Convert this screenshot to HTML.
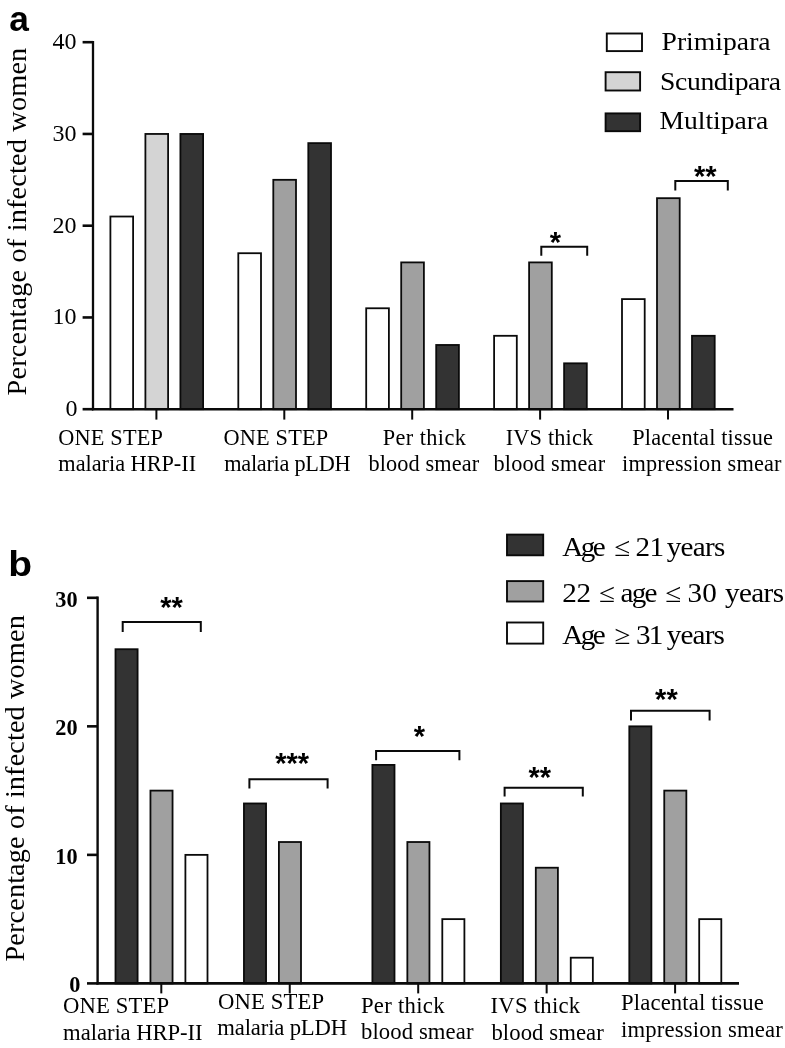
<!DOCTYPE html>
<html lang="en"><head><meta charset="utf-8"><title>Figure</title>
<style>
html,body{margin:0;padding:0;background:#fff;}
svg{display:block;}
text{fill:#000;}
.sf{font-family:"Liberation Serif",serif;}
.sn{font-family:"Liberation Sans",sans-serif;}
.b{font-weight:bold;}
</style></head><body>
<svg width="785" height="1048" viewBox="0 0 785 1048">
<rect x="0" y="0" width="785" height="1048" fill="#fff"/>
<rect x="110.40" y="216.52" width="22.70" height="192.68" fill="#ffffff" stroke="#0a0a0a" stroke-width="1.8"/>
<rect x="145.40" y="133.95" width="22.70" height="275.25" fill="#d4d4d4" stroke="#0a0a0a" stroke-width="1.8"/>
<rect x="180.40" y="133.95" width="22.70" height="275.25" fill="#333333" stroke="#0a0a0a" stroke-width="1.8"/>
<rect x="238.30" y="253.22" width="22.70" height="155.98" fill="#ffffff" stroke="#0a0a0a" stroke-width="1.8"/>
<rect x="273.30" y="179.82" width="22.70" height="229.38" fill="#a0a0a0" stroke="#0a0a0a" stroke-width="1.8"/>
<rect x="308.30" y="143.12" width="22.70" height="266.08" fill="#333333" stroke="#0a0a0a" stroke-width="1.8"/>
<rect x="366.20" y="308.27" width="22.70" height="100.93" fill="#ffffff" stroke="#0a0a0a" stroke-width="1.8"/>
<rect x="401.20" y="262.40" width="22.70" height="146.80" fill="#a0a0a0" stroke="#0a0a0a" stroke-width="1.8"/>
<rect x="436.20" y="344.97" width="22.70" height="64.23" fill="#333333" stroke="#0a0a0a" stroke-width="1.8"/>
<rect x="494.10" y="335.80" width="22.70" height="73.40" fill="#ffffff" stroke="#0a0a0a" stroke-width="1.8"/>
<rect x="529.10" y="262.40" width="22.70" height="146.80" fill="#a0a0a0" stroke="#0a0a0a" stroke-width="1.8"/>
<rect x="564.10" y="363.32" width="22.70" height="45.88" fill="#333333" stroke="#0a0a0a" stroke-width="1.8"/>
<rect x="622.00" y="299.10" width="22.70" height="110.10" fill="#ffffff" stroke="#0a0a0a" stroke-width="1.8"/>
<rect x="657.00" y="198.17" width="22.70" height="211.03" fill="#a0a0a0" stroke="#0a0a0a" stroke-width="1.8"/>
<rect x="692.00" y="335.80" width="22.70" height="73.40" fill="#333333" stroke="#0a0a0a" stroke-width="1.8"/>
<line x1="93.00" y1="40.90" x2="93.00" y2="410.20" stroke="#0a0a0a" stroke-width="2.3" stroke-linecap="butt"/>
<line x1="91.90" y1="409.20" x2="733.50" y2="409.20" stroke="#0a0a0a" stroke-width="2.6" stroke-linecap="butt"/>
<line x1="82.60" y1="409.20" x2="93.00" y2="409.20" stroke="#0a0a0a" stroke-width="2.6" stroke-linecap="butt"/>
<text class="sf" x="77.60" y="416.10" font-size="24" text-anchor="end" >0</text>
<line x1="82.60" y1="317.45" x2="93.00" y2="317.45" stroke="#0a0a0a" stroke-width="2.6" stroke-linecap="butt"/>
<text class="sf" x="76.40" y="324.35" font-size="24" text-anchor="end" >10</text>
<line x1="82.60" y1="225.70" x2="93.00" y2="225.70" stroke="#0a0a0a" stroke-width="2.6" stroke-linecap="butt"/>
<text class="sf" x="76.40" y="232.60" font-size="24" text-anchor="end" >20</text>
<line x1="82.60" y1="133.95" x2="93.00" y2="133.95" stroke="#0a0a0a" stroke-width="2.6" stroke-linecap="butt"/>
<text class="sf" x="76.40" y="140.85" font-size="24" text-anchor="end" >30</text>
<line x1="82.60" y1="42.20" x2="93.00" y2="42.20" stroke="#0a0a0a" stroke-width="2.6" stroke-linecap="butt"/>
<text class="sf" x="76.40" y="49.10" font-size="24" text-anchor="end" >40</text>
<line x1="156.40" y1="409.20" x2="156.40" y2="419.60" stroke="#0a0a0a" stroke-width="2.0" stroke-linecap="butt"/>
<line x1="284.30" y1="409.20" x2="284.30" y2="419.60" stroke="#0a0a0a" stroke-width="2.0" stroke-linecap="butt"/>
<line x1="412.20" y1="409.20" x2="412.20" y2="419.60" stroke="#0a0a0a" stroke-width="2.0" stroke-linecap="butt"/>
<line x1="540.10" y1="409.20" x2="540.10" y2="419.60" stroke="#0a0a0a" stroke-width="2.0" stroke-linecap="butt"/>
<line x1="668.00" y1="409.20" x2="668.00" y2="419.60" stroke="#0a0a0a" stroke-width="2.0" stroke-linecap="butt"/>
<text class="sf" x="58.28" y="444.80" font-size="22.3" text-anchor="start" letter-spacing="0.168">ONE STEP</text>
<text class="sf" x="58.34" y="470.70" font-size="22.3" text-anchor="start" letter-spacing="-0.023">malaria HRP-II</text>
<text class="sf" x="223.40" y="444.80" font-size="22.3" text-anchor="start" letter-spacing="0.200">ONE STEP</text>
<text class="sf" x="224.21" y="470.70" font-size="22.3" text-anchor="start" letter-spacing="-0.268">malaria pLDH</text>
<text class="sf" x="382.66" y="444.60" font-size="22.3" text-anchor="start" letter-spacing="0.429">Per thick</text>
<text class="sf" x="368.58" y="470.70" font-size="22.3" text-anchor="start" letter-spacing="0.089">blood smear</text>
<text class="sf" x="505.70" y="444.60" font-size="22.3" text-anchor="start" letter-spacing="0.174">IVS thick</text>
<text class="sf" x="493.41" y="470.70" font-size="22.3" text-anchor="start" letter-spacing="0.206">blood smear</text>
<text class="sf" x="632.29" y="444.60" font-size="22.3" text-anchor="start" letter-spacing="0.166">Placental tissue</text>
<text class="sf" x="622.02" y="470.50" font-size="22.3" text-anchor="start" letter-spacing="0.190">impression smear</text>
<text transform="translate(25.7,395.4) rotate(-90)" class="sf" font-size="28.3" letter-spacing="0.16" fill="#111">Percentage of infected women</text>
<rect x="606.80" y="33.50" width="35.20" height="17.60" fill="#ffffff" stroke="#0a0a0a" stroke-width="1.9"/>
<rect x="605.60" y="72.20" width="34.50" height="18.30" fill="#d4d4d4" stroke="#0a0a0a" stroke-width="1.9"/>
<rect x="605.60" y="113.40" width="34.50" height="17.80" fill="#333333" stroke="#0a0a0a" stroke-width="1.9"/>
<path d="M541.30 255.80 V246.70 H587.20 V255.80" fill="none" stroke="#0a0a0a" stroke-width="2.0"/>
<text class="sn b" x="555.50" y="252.10" font-size="29" text-anchor="middle" >*</text>
<path d="M675.30 190.60 V181.10 H727.80 V190.60" fill="none" stroke="#0a0a0a" stroke-width="2.0"/>
<text class="sn b" x="705.30" y="185.60" font-size="29" text-anchor="middle" >**</text>
<text class="sn b" transform="translate(9.2,30.9) scale(0.98,1)" font-size="36">a</text>
<rect x="115.50" y="649.22" width="22.10" height="334.18" fill="#333333" stroke="#0a0a0a" stroke-width="1.8"/>
<rect x="150.45" y="790.61" width="22.10" height="192.79" fill="#a0a0a0" stroke="#0a0a0a" stroke-width="1.8"/>
<rect x="185.40" y="854.87" width="22.10" height="128.53" fill="#ffffff" stroke="#0a0a0a" stroke-width="1.8"/>
<rect x="243.95" y="803.46" width="22.10" height="179.94" fill="#333333" stroke="#0a0a0a" stroke-width="1.8"/>
<rect x="278.90" y="842.02" width="22.10" height="141.38" fill="#a0a0a0" stroke="#0a0a0a" stroke-width="1.8"/>
<rect x="372.40" y="764.90" width="22.10" height="218.50" fill="#333333" stroke="#0a0a0a" stroke-width="1.8"/>
<rect x="407.35" y="842.02" width="22.10" height="141.38" fill="#a0a0a0" stroke="#0a0a0a" stroke-width="1.8"/>
<rect x="442.30" y="919.13" width="22.10" height="64.26" fill="#ffffff" stroke="#0a0a0a" stroke-width="1.8"/>
<rect x="500.85" y="803.46" width="22.10" height="179.94" fill="#333333" stroke="#0a0a0a" stroke-width="1.8"/>
<rect x="535.80" y="867.72" width="22.10" height="115.68" fill="#a0a0a0" stroke="#0a0a0a" stroke-width="1.8"/>
<rect x="570.75" y="957.69" width="22.10" height="25.71" fill="#ffffff" stroke="#0a0a0a" stroke-width="1.8"/>
<rect x="629.30" y="726.34" width="22.10" height="257.06" fill="#333333" stroke="#0a0a0a" stroke-width="1.8"/>
<rect x="664.25" y="790.61" width="22.10" height="192.79" fill="#a0a0a0" stroke="#0a0a0a" stroke-width="1.8"/>
<rect x="699.20" y="919.13" width="22.10" height="64.26" fill="#ffffff" stroke="#0a0a0a" stroke-width="1.8"/>
<line x1="97.60" y1="596.40" x2="97.60" y2="984.40" stroke="#0a0a0a" stroke-width="2.4" stroke-linecap="butt"/>
<line x1="96.50" y1="983.40" x2="739.00" y2="983.40" stroke="#0a0a0a" stroke-width="2.6" stroke-linecap="butt"/>
<line x1="87.00" y1="983.40" x2="97.60" y2="983.40" stroke="#0a0a0a" stroke-width="2.6" stroke-linecap="butt"/>
<text class="sf b" x="80.50" y="992.40" font-size="22.3" text-anchor="end" >0</text>
<line x1="87.00" y1="854.87" x2="97.60" y2="854.87" stroke="#0a0a0a" stroke-width="2.6" stroke-linecap="butt"/>
<text class="sf b" x="77.60" y="863.87" font-size="22.3" text-anchor="end" >10</text>
<line x1="87.00" y1="726.34" x2="97.60" y2="726.34" stroke="#0a0a0a" stroke-width="2.6" stroke-linecap="butt"/>
<text class="sf b" x="77.60" y="735.34" font-size="22.3" text-anchor="end" >20</text>
<line x1="87.00" y1="597.81" x2="97.60" y2="597.81" stroke="#0a0a0a" stroke-width="2.6" stroke-linecap="butt"/>
<text class="sf b" x="77.60" y="606.81" font-size="22.3" text-anchor="end" >30</text>
<line x1="161.30" y1="983.40" x2="161.30" y2="993.40" stroke="#0a0a0a" stroke-width="2.0" stroke-linecap="butt"/>
<line x1="289.75" y1="983.40" x2="289.75" y2="993.40" stroke="#0a0a0a" stroke-width="2.0" stroke-linecap="butt"/>
<line x1="418.20" y1="983.40" x2="418.20" y2="993.40" stroke="#0a0a0a" stroke-width="2.0" stroke-linecap="butt"/>
<line x1="546.65" y1="983.40" x2="546.65" y2="993.40" stroke="#0a0a0a" stroke-width="2.0" stroke-linecap="butt"/>
<line x1="675.10" y1="983.40" x2="675.10" y2="993.40" stroke="#0a0a0a" stroke-width="2.0" stroke-linecap="butt"/>
<text class="sf" x="62.96" y="1013.10" font-size="22.7" text-anchor="start" letter-spacing="0.114">ONE STEP</text>
<text class="sf" x="63.12" y="1040.40" font-size="22.7" text-anchor="start" letter-spacing="-0.074">malaria HRP-II</text>
<text class="sf" x="217.96" y="1008.60" font-size="22.7" text-anchor="start" letter-spacing="0.114">ONE STEP</text>
<text class="sf" x="217.34" y="1034.90" font-size="22.7" text-anchor="start" letter-spacing="-0.168">malaria pLDH</text>
<text class="sf" x="360.95" y="1012.70" font-size="22.7" text-anchor="start" letter-spacing="0.288">Per thick</text>
<text class="sf" x="361.03" y="1038.90" font-size="22.7" text-anchor="start" letter-spacing="0.095">blood smear</text>
<text class="sf" x="490.46" y="1013.20" font-size="22.7" text-anchor="start" letter-spacing="0.261">IVS thick</text>
<text class="sf" x="491.41" y="1039.70" font-size="22.7" text-anchor="start" letter-spacing="0.082">blood smear</text>
<text class="sf" x="620.95" y="1010.30" font-size="22.7" text-anchor="start" letter-spacing="0.157">Placental tissue</text>
<text class="sf" x="620.98" y="1037.40" font-size="22.7" text-anchor="start" letter-spacing="0.167">impression smear</text>
<text class="sf" transform="translate(661.52,50.30) scale(1.08,1)" font-size="25.6" letter-spacing="0.017">Primipara</text>
<text class="sf" transform="translate(660.01,89.50) scale(1.08,1)" font-size="25.6" letter-spacing="-0.326">Scundipara</text>
<text class="sf" transform="translate(659.52,129.30) scale(1.08,1)" font-size="25.6" letter-spacing="-0.030">Multipara</text>
<text class="sf" transform="translate(562.32,556.20) scale(1.1,1)" font-size="26.5"><tspan x="0.00" letter-spacing="-2.343">Age</tspan> <tspan x="47.32" letter-spacing="0.000">≤</tspan> <tspan x="66.61" letter-spacing="-0.612">21</tspan> <tspan x="94.92" letter-spacing="-0.676">years</tspan></text>
<text class="sf" transform="translate(562.14,602.10) scale(1.1,1)" font-size="26.5"><tspan x="0.00" letter-spacing="-0.169">22</tspan> <tspan x="33.51" letter-spacing="0.000">≤</tspan> <tspan x="53.15" letter-spacing="-1.682">age</tspan> <tspan x="93.81" letter-spacing="0.000">≤</tspan> <tspan x="113.87" letter-spacing="0.364">30</tspan> <tspan x="147.99" letter-spacing="-0.528">years</tspan></text>
<text class="sf" transform="translate(562.32,644.20) scale(1.1,1)" font-size="26.5"><tspan x="0.00" letter-spacing="-2.343">Age</tspan> <tspan x="47.33" letter-spacing="0.000">≥</tspan> <tspan x="66.96" letter-spacing="-1.545">31</tspan> <tspan x="94.92" letter-spacing="-0.745">years</tspan></text>
<text transform="translate(24.2,961.5) rotate(-90)" class="sf" font-size="28.3" letter-spacing="0.11" fill="#111">Percentage of infected women</text>
<rect x="507.00" y="534.60" width="36.20" height="20.70" fill="#333333" stroke="#0a0a0a" stroke-width="1.9"/>
<rect x="507.00" y="581.10" width="36.20" height="20.40" fill="#a0a0a0" stroke="#0a0a0a" stroke-width="1.9"/>
<rect x="507.00" y="622.50" width="36.20" height="21.10" fill="#ffffff" stroke="#0a0a0a" stroke-width="1.9"/>
<path d="M122.70 631.90 V622.10 H200.80 V631.90" fill="none" stroke="#0a0a0a" stroke-width="2.0"/>
<text class="sn b" x="171.50" y="617.00" font-size="29" text-anchor="middle" >**</text>
<path d="M249.40 788.60 V779.20 H327.60 V788.60" fill="none" stroke="#0a0a0a" stroke-width="2.0"/>
<text class="sn b" x="292.10" y="772.50" font-size="29" text-anchor="middle" >***</text>
<path d="M376.10 760.20 V750.90 H459.40 V760.20" fill="none" stroke="#0a0a0a" stroke-width="2.0"/>
<text class="sn b" x="419.30" y="745.50" font-size="29" text-anchor="middle" >*</text>
<path d="M504.60 796.50 V787.70 H582.80 V796.50" fill="none" stroke="#0a0a0a" stroke-width="2.0"/>
<text class="sn b" x="539.85" y="787.40" font-size="29" text-anchor="middle" >**</text>
<path d="M631.00 720.40 V710.70 H709.60 V720.40" fill="none" stroke="#0a0a0a" stroke-width="2.0"/>
<text class="sn b" x="666.40" y="708.80" font-size="29" text-anchor="middle" >**</text>
<text class="sn b" transform="translate(8.2,575.9) scale(1.1,1)" font-size="35.4">b</text>
</svg>
</body></html>
